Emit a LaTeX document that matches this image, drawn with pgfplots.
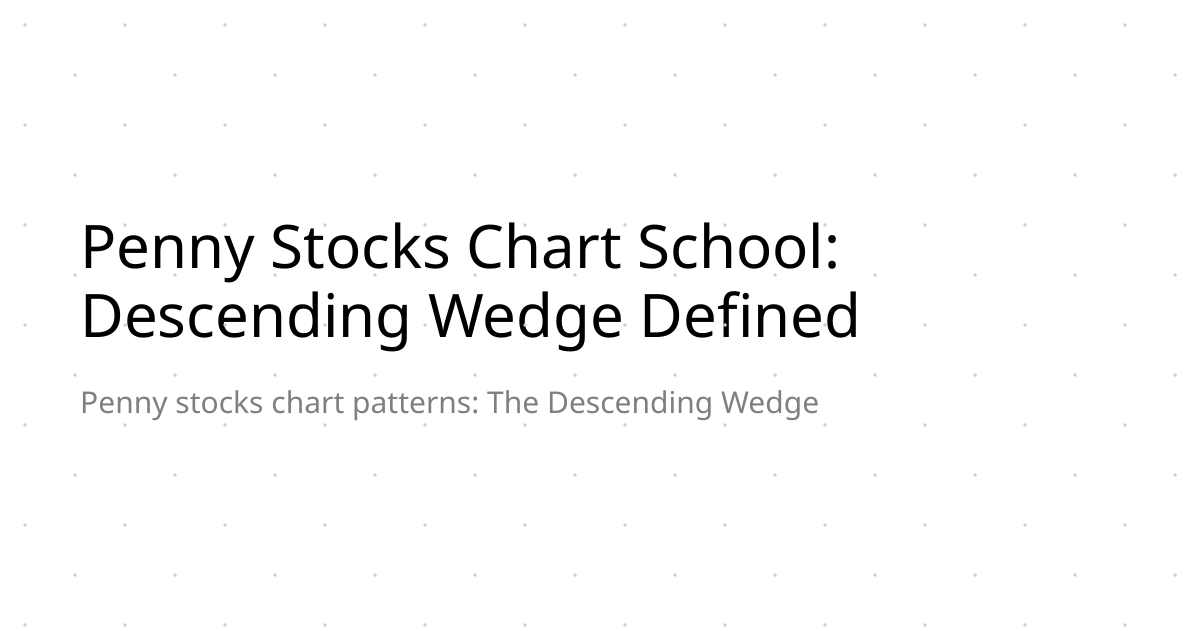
\documentclass[border=0pt]{standalone}
\usepackage{pgfplots}
\pgfplotsset{compat=1.18}
\usepackage{fontspec}
\setmainfont[Ligatures=NoCommon]{Noto Sans}
\frenchspacing

\definecolor{dotgray}{HTML}{CFCFCF}
\definecolor{subgray}{HTML}{7F7F7F}

\begin{document}
\begin{tikzpicture}
\begin{axis}[
  width=1200pt, height=630pt,
  scale only axis,
  xmin=0, xmax=1200,
  ymin=0, ymax=630,
  y dir=reverse,
  hide axis,
  clip=false,
]
% background dot grid, even rows
\addplot[only marks, mark=*, mark size=1.5pt, color=dotgray] coordinates {
(25,25) (125,25) (225,25) (325,25) (425,25) (525,25) (625,25) (725,25) (825,25) (925,25) (1025,25) (1125,25)
(25,125) (125,125) (225,125) (325,125) (425,125) (525,125) (625,125) (725,125) (825,125) (925,125) (1025,125) (1125,125)
(25,225) (125,225) (225,225) (325,225) (425,225) (525,225) (625,225) (725,225) (825,225) (925,225) (1025,225) (1125,225)
(25,325) (125,325) (225,325) (325,325) (425,325) (525,325) (625,325) (725,325) (825,325) (925,325) (1025,325) (1125,325)
(25,425) (125,425) (225,425) (325,425) (425,425) (525,425) (625,425) (725,425) (825,425) (925,425) (1025,425) (1125,425)
(25,525) (125,525) (225,525) (325,525) (425,525) (525,525) (625,525) (725,525) (825,525) (925,525) (1025,525) (1125,525)
(25,625) (125,625) (225,625) (325,625) (425,625) (525,625) (625,625) (725,625) (825,625) (925,625) (1025,625) (1125,625)
};
% odd rows, shifted by half a step
\addplot[only marks, mark=*, mark size=1.5pt, color=dotgray] coordinates {
(75,75) (175,75) (275,75) (375,75) (475,75) (575,75) (675,75) (775,75) (875,75) (975,75) (1075,75) (1175,75)
(75,175) (175,175) (275,175) (375,175) (475,175) (575,175) (675,175) (775,175) (875,175) (975,175) (1075,175) (1175,175)
(75,275) (175,275) (275,275) (375,275) (475,275) (575,275) (675,275) (775,275) (875,275) (975,275) (1075,275) (1175,275)
(75,375) (175,375) (275,375) (375,375) (475,375) (575,375) (675,375) (775,375) (875,375) (975,375) (1075,375) (1175,375)
(75,475) (175,475) (275,475) (375,475) (475,475) (575,475) (675,475) (775,475) (875,475) (975,475) (1075,475) (1175,475)
(75,575) (175,575) (275,575) (375,575) (475,575) (575,575) (675,575) (775,575) (875,575) (975,575) (1075,575) (1175,575)
};
\path[use as bounding box] (axis cs:0,0) rectangle (axis cs:1200,630);
\node[anchor=base west, inner sep=0pt, font=\fontsize{60}{70}\selectfont] at (axis cs:80,268) {Penny Stocks Chart School:};
\node[anchor=base west, inner sep=0pt, font=\fontsize{60}{70}\selectfont] at (axis cs:80,337) {Descending Wedge Defined};
\node[anchor=base west, inner sep=0pt, text=subgray, font=\fontsize{30}{36}\selectfont] at (axis cs:80,413) {Penny stocks chart patterns: The Descending Wedge};
\end{axis}
\end{tikzpicture}
\end{document}
